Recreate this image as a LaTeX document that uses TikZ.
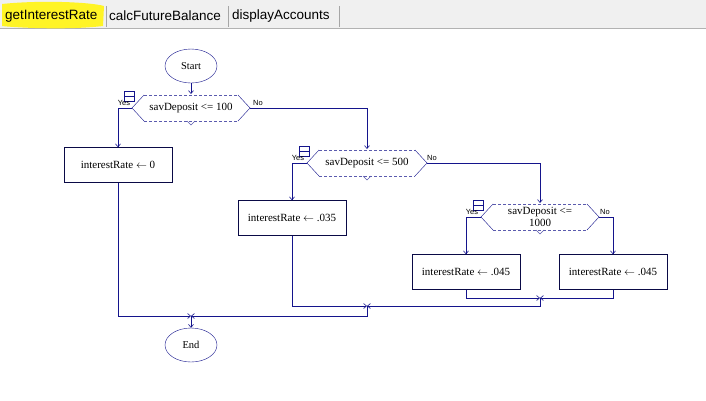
\documentclass[tikz,border=0pt]{standalone}
\usepackage{fontspec}
\setmainfont{Liberation Serif}
\setsansfont{Liberation Sans}
\usetikzlibrary{arrows.meta,shapes.geometric}
\definecolor{fc}{RGB}{20,20,140}
\begin{document}
\begin{tikzpicture}[x=1pt,y=-1pt,
 term/.style={draw=fc,ellipse,minimum width=52pt,minimum height=34pt,inner sep=0pt,font=\fontsize{10.5}{12}\selectfont},
 proc/.style={draw=fc!50!black,minimum width=108pt,minimum height=35pt,font=\fontsize{11}{12}\selectfont,fill=white},
 lbl/.style={font=\sffamily\fontsize{7.5}{8}\selectfont,inner sep=0pt},
 tab/.style={font=\sffamily\fontsize{13.5}{14}\selectfont,inner sep=0pt,anchor=west},
 fl/.style={draw=fc,line width=0.6pt,-{Straight Barb[length=3pt,width=5pt]}},
 ln/.style={draw=fc,line width=0.6pt}]
\useasboundingbox (0,0) rectangle (706,400);
\fill[gray!12] (0,0) rectangle (706,28);
\fill[white] (0,28) rectangle (706,400);
\draw[gray!60] (0,28) -- (706,28);
\fill[yellow!85!white] (2,4) .. controls (40,0) and (90,2) .. (104,6) -- (103,26) .. controls (70,30) and (20,28) .. (2,26) -- cycle;
\node[tab] (t1) at (5,16) {getInterestRate};
\node[tab] (t2) at (109,16) {calcFutureBalance};
\node[tab] (t3) at (232,16) {displayAccounts};
\foreach \x in {106,228,339}{\draw[gray!70,line width=1pt] (\x,6) -- (\x,27);}
% nodes
\node[term] (start) at (191,66) {Start};
\node[term] (end) at (191,345) {End};
\newcommand{\hexa}[5]{% name, cx, cy, halfwidth, text
 \coordinate (#1) at (#2,#3);
 \coordinate (#1W) at (#2-#4,#3);
 \coordinate (#1E) at (#2+#4,#3);
 \coordinate (#1N) at (#2,#3-14);
 \draw[fc!70,densely dashed] (#2-#4+12,#3-13) -- (#2+#4-12,#3-13);
 \draw[fc!70,densely dashed] (#2-#4+12,#3+13) -- (#2+#4-12,#3+13);
 \draw[fc] (#2-#4+12,#3-13) -- (#2-#4,#3) -- (#2-#4+12,#3+13);
 \draw[fc] (#2+#4-12,#3-13) -- (#2+#4,#3) -- (#2+#4-12,#3+13);
 \draw[fc!70] (#2-4,#3+13) -- (#2,#3+17) -- (#2+4,#3+13);
 \draw[fc,line width=0.8pt] (#2-#4-8,#3-17) rectangle ++(10,10);
 \draw[fc,line width=0.8pt] (#2-#4-8,#3-12) -- ++(10,0);
 \node[font=\fontsize{11}{12}\selectfont,align=center,inner sep=0pt] (#1T) at (#2,#3) {#5};
}
\hexa{d1}{191}{108}{59}{savDeposit <= 100}
\hexa{d2}{367}{163}{60}{savDeposit <= 500}
\hexa{d3}{540}{217}{59}{savDeposit <=\\1000}
\node[proc] (p1) at (118,165) {interestRate $\leftarrow$ 0};
\node[proc] (p2) at (292,218) {interestRate $\leftarrow$ .035};
\node[proc] (p3) at (466,272) {interestRate $\leftarrow$ .045};
\node[proc] (p4) at (613,272) {interestRate $\leftarrow$ .045};
\node[lbl] (y1) at (124,103) {Yes};
\node[lbl] (n1) at (258,103) {No};
\node[lbl] (y2) at (298,158) {Yes};
\node[lbl] (n2) at (432,158) {No};
\node[lbl] (y3) at (472,212) {Yes};
\node[lbl] (n3) at (605,212) {No};
\coordinate (m1) at (191,316);
\coordinate (m2) at (367,306);
\coordinate (m3) at (540,298);
% edges
\draw[fl] (start) -- (d1N);
\draw[fl] (d1W) -| (p1.north);
\draw[fl] (d1E) -| (d2N);
\draw[fl] (d2W) -| (p2.north);
\draw[fl] (d2E) -| (d3N);
\draw[fl] (d3W) -| (p3.north);
\draw[fl] (d3E) -| (p4.north);
\draw[fl] (p3.south) |- (m3);
\draw[fl] (p4.south) |- (m3);
\draw[fl] (m3) -- (540,306) -- (m2);
\draw[fl] (p2.south) |- (m2);
\draw[fl] (m2) -- (367,316) -- (m1);
\draw[fl] (p1.south) |- (m1);
\draw[fl] (m1) -- (end);
\end{tikzpicture}
\end{document}
